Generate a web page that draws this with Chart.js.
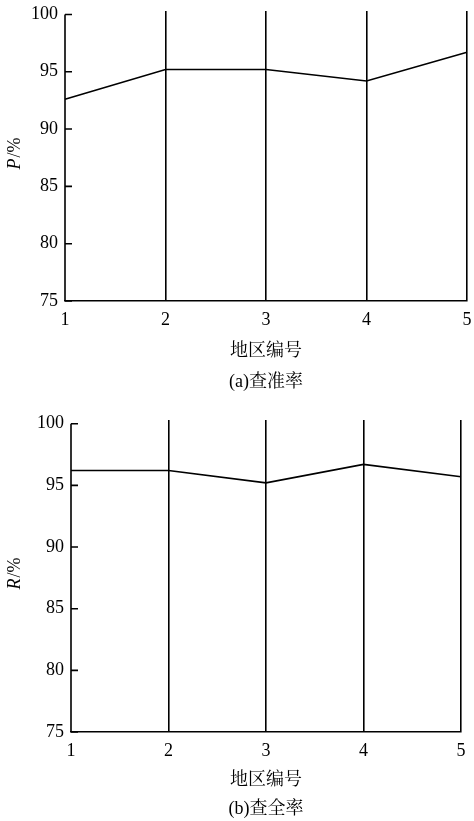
<!DOCTYPE html>
<html>
<head>
<meta charset="utf-8">
<script src="https://cdn.jsdelivr.net/npm/chart.js@4.4.1/dist/chart.umd.min.js"></script>
<style>
  html, body { margin: 0; padding: 0; background: #fff; }
  .panel { position: absolute; left: 0; width: 474px; }
  #panelA { top: 0; height: 400px; }
  #panelB { top: 400px; height: 421px; }
</style>
</head>
<body>
<div class="panel" id="panelA"><canvas id="precisionChart"></canvas></div>
<div class="panel" id="panelB"><canvas id="recallChart"></canvas></div>
<script>
const regions = ['1', '2', '3', '4', '5'];
const precision = [92.6, 95.2, 95.2, 94.2, 96.7];
const recall = [96.2, 96.2, 95.2, 96.7, 95.7];
const yMin = 75;
const yMax = 100;
const yStep = 5;

const serif = '"Liberation Serif", "Noto Serif CJK SC", "Noto Sans CJK SC", serif';
Chart.defaults.font.family = serif;
Chart.defaults.color = '#000';

// left axis line + inward ticks + the rotated y title (italic letter, upright unit)
const axisDecor = {
  id: 'axisDecor',
  afterDatasetsDraw(chart, args, opts) {
    const { ctx, chartArea, scales: { y } } = chart;
    const left = chartArea.left;
    ctx.save();
    ctx.strokeStyle = '#000';
    ctx.lineWidth = 1.6;
    ctx.beginPath();
    ctx.moveTo(left, y.getPixelForValue(yMin));
    ctx.lineTo(left, y.getPixelForValue(yMax));
    y.ticks.forEach(t => {
      const py = y.getPixelForValue(t.value);
      ctx.moveTo(left, py);
      ctx.lineTo(left + 7, py);
    });
    ctx.stroke();

    ctx.translate(15, (chartArea.top + chartArea.bottom) / 2 - 2);
    ctx.rotate(-Math.PI / 2);
    ctx.fillStyle = '#000';
    ctx.textBaseline = 'middle';
    const italic = 'italic 18px ' + serif;
    const normal = '18px ' + serif;
    ctx.font = italic;
    const w1 = ctx.measureText(opts.letter).width;
    ctx.font = normal;
    const w2 = ctx.measureText('/%').width;
    let x0 = -(w1 + w2) / 2;
    ctx.font = italic;
    ctx.fillText(opts.letter, x0, 0);
    ctx.font = normal;
    ctx.fillText('/%', x0 + w1 + 1, 0);
    ctx.restore();
  }
};

function makeChart(id, values, letter, caption, g) {
  return new Chart(document.getElementById(id), {
    type: 'line',
    data: {
      labels: regions,
      datasets: [{
        data: values,
        borderColor: '#000',
        borderWidth: 1.6,
        pointRadius: 0,
        tension: 0,
        fill: false
      }]
    },
    options: {
      responsive: true,
      maintainAspectRatio: false,
      animation: false,
      layout: { padding: { top: g.top, right: g.right, bottom: 0, left: 0 } },
      plugins: {
        legend: { display: false },
        tooltip: { enabled: false },
        axisDecor: { letter: letter }
      },
      scales: {
        x: {
          offset: false,
          grid: {
            display: true,
            drawOnChartArea: true,
            drawTicks: false,
            lineWidth: 1.6,
            color: ctx => ctx.index === 0 ? 'rgba(0,0,0,0)' : '#000'
          },
          border: { display: true, color: '#000', width: 1.6 },
          ticks: { font: { size: 18 }, padding: 8, maxRotation: 0, autoSkip: false },
          title: {
            display: true,
            text: ['地区编号', caption],
            font: { size: 18, lineHeight: g.titleLine },
            padding: { top: 0, bottom: g.titlePad }
          },
          afterFit(scale) {
            scale.height = g.xHeight;
            scale.paddingLeft = 0;
            scale.paddingRight = 0;
          }
        },
        y: {
          min: yMin,
          max: yMax + 0.3,
          bounds: 'data',
          grid: { display: false, drawTicks: false },
          border: { display: false },
          ticks: { stepSize: yStep, includeBounds: false, font: { size: 18 }, padding: 7 },
          afterFit(scale) {
            scale.width = g.yWidth;
            scale.paddingTop = 0;
            scale.paddingBottom = 0;
          }
        }
      }
    },
    plugins: [axisDecor]
  });
}

makeChart('precisionChart', precision, 'P', '(a)查准率',
  { top: 11, right: 7, xHeight: 99, yWidth: 65, titleLine: '31px', titlePad: 2 });
makeChart('recallChart', recall, 'R', '(b)查全率',
  { top: 20, right: 13, xHeight: 89, yWidth: 71, titleLine: '29px', titlePad: -3 });
</script>
</body>
</html>
